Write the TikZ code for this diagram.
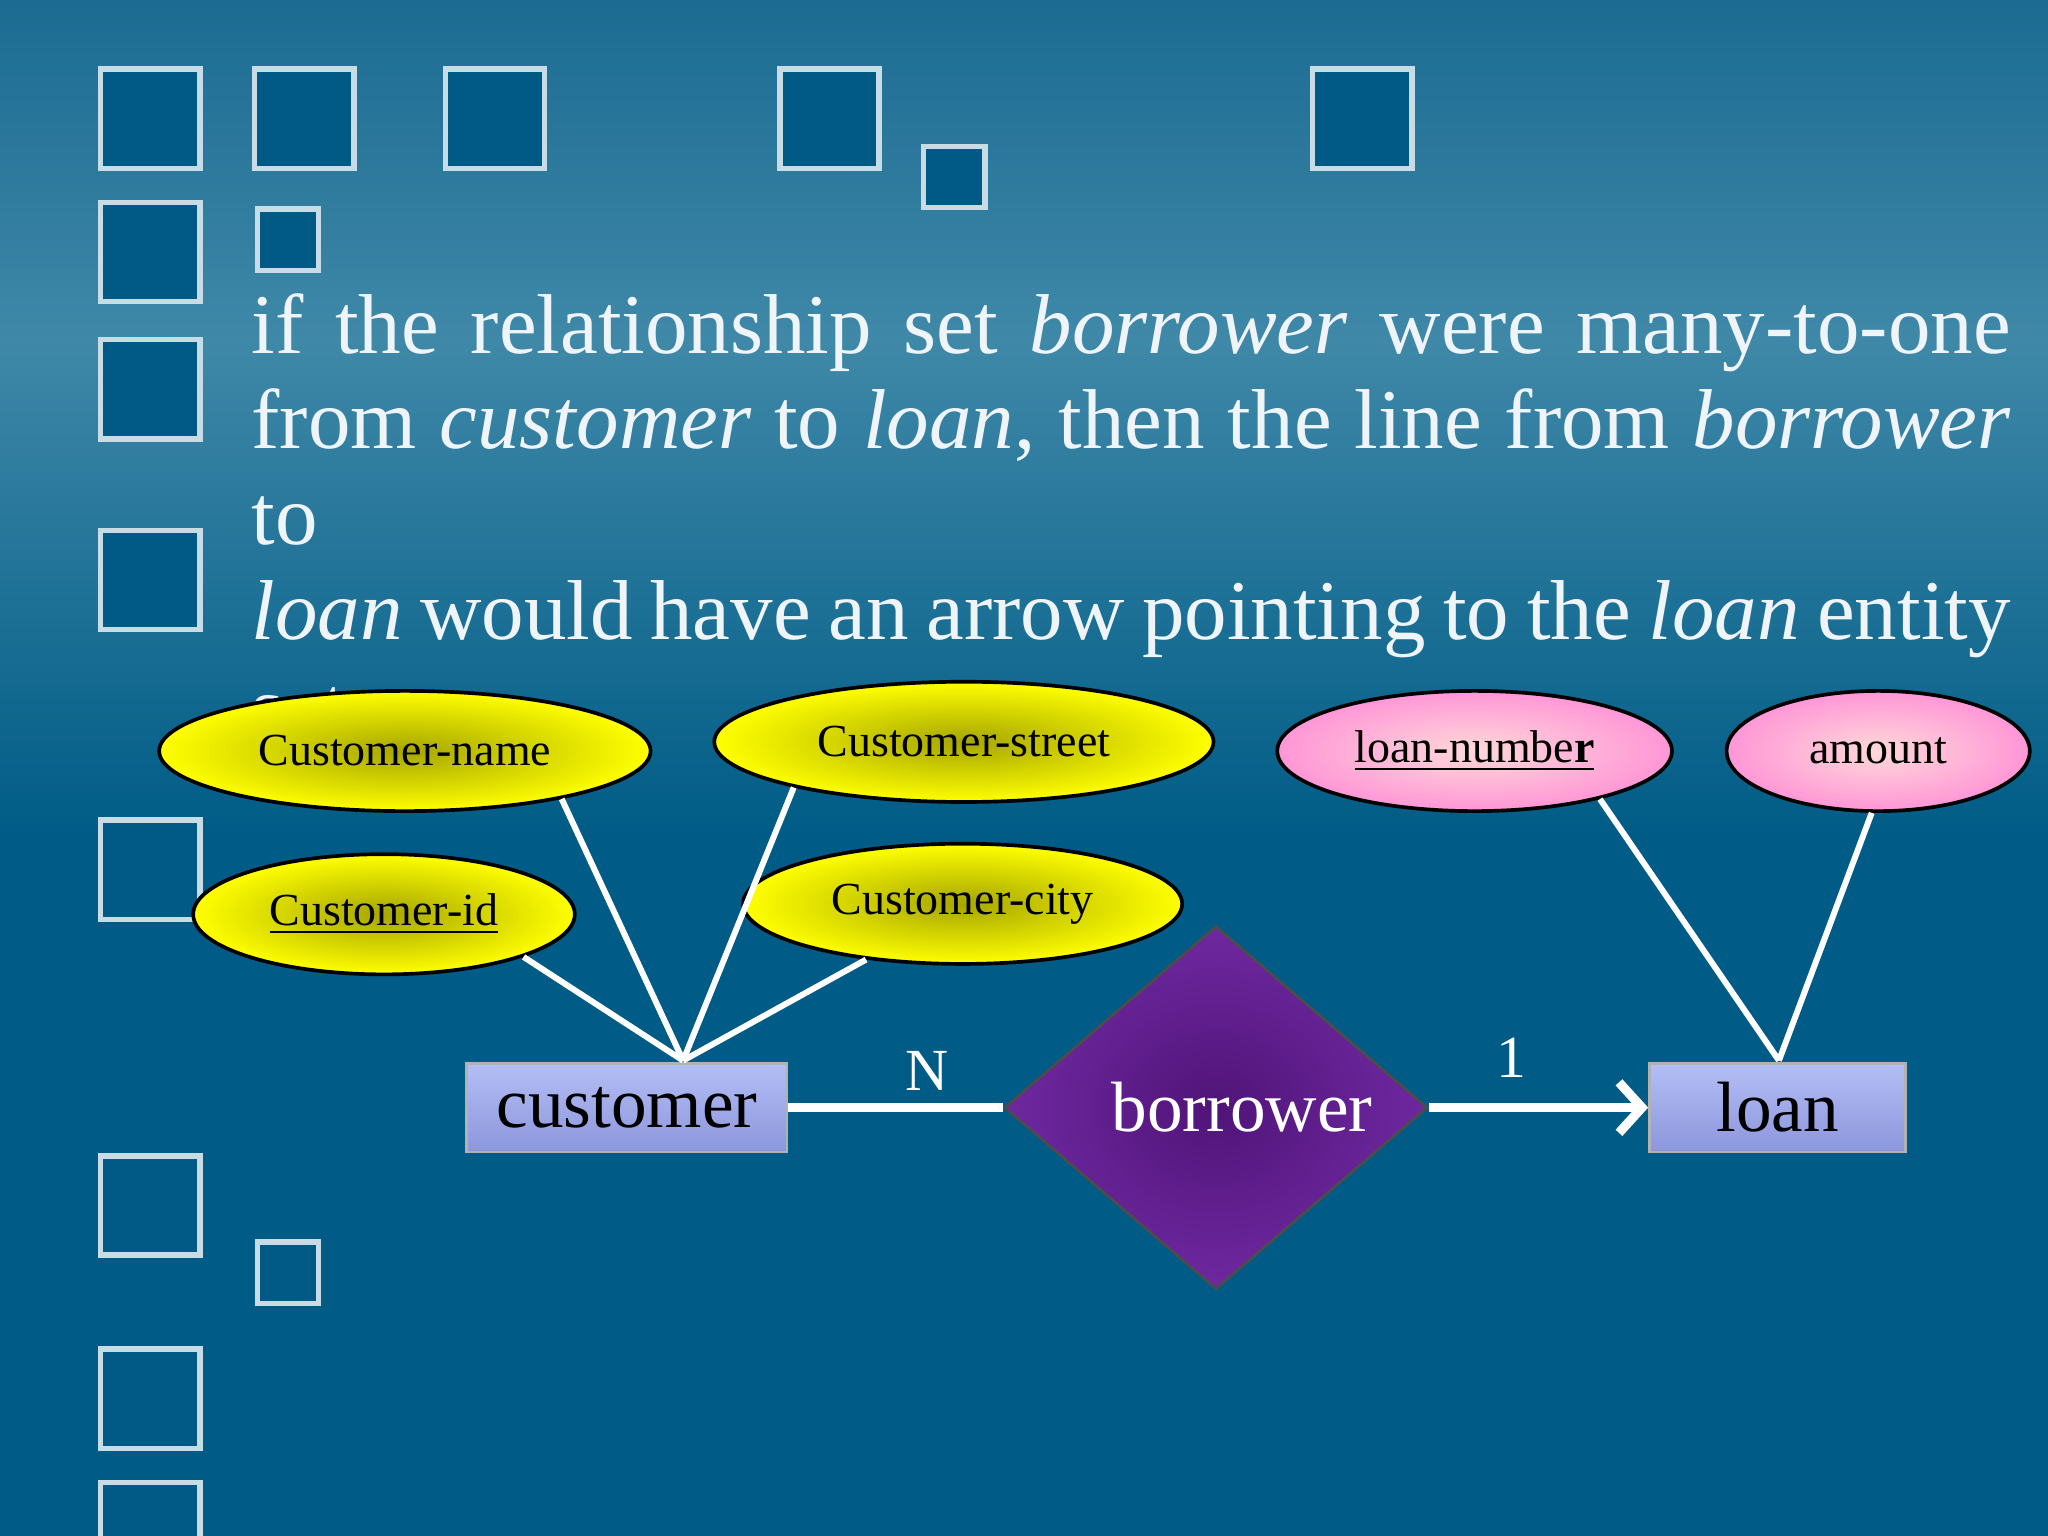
\documentclass[tikz,border=0pt]{standalone}
\usepackage{fontspec}
\setmainfont{Liberation Serif}
\usetikzlibrary{shapes.geometric,arrows.meta}
\definecolor{bgtop}{HTML}{1B6B92}
\definecolor{bgmid}{HTML}{3F88A8}
\definecolor{bgbot}{HTML}{005C86}
\definecolor{sqfill}{HTML}{005A85}
\definecolor{sqline}{HTML}{C8DCE6}
\definecolor{ptxt}{HTML}{EEF4F7}
\tikzset{
  sq/.style={draw=sqline,line width=1.2pt,fill=sqfill},
  yel/.style={ellipse,draw=black,line width=0.8pt,inner color=yellow!65!black,outer color=yellow,inner sep=0pt,font=\fontsize{10}{12}\selectfont},
  pnk/.style={ellipse,draw=black,line width=0.8pt,inner color=pink!60!white,outer color={rgb,255:red,255;green,150;blue,215},inner sep=0pt,font=\fontsize{10}{12}\selectfont},
  ent/.style={draw=gray!60,line width=0.6pt,top color={rgb,255:red,180;green,190;blue,245},bottom color={rgb,255:red,140;green,150;blue,220},font=\fontsize{15.5}{17}\selectfont},
  conn/.style={draw=white,line width=1.3pt},
}
\begin{document}
\begin{tikzpicture}[x=0.01cm,y=-0.01cm]
\useasboundingbox (0,0) rectangle (1568,1176);
\shade[top color=bgtop,bottom color=bgmid] (0,0) rectangle (1568,260);
\shade[top color=bgmid,bottom color=bgbot] (0,260) rectangle (1568,640);
\fill[bgbot] (0,640) rectangle (1568,1176);
% squares
\foreach \x/\y/\s in {77/53/76,195/53/76,341/53/76,597/53/76,1005/53/76,707/112/47,77/155/76,197/160/47,77/260/76,77/406/76,77/628/76,77/885/76,197/951/47,77/1033/76,77/1135/76}
  \draw[sq] (\x,\y) rectangle ++(\s,\s);
% paragraph
\node[anchor=north west,inner sep=0pt,text width=13.46cm,text=ptxt,align=justify,
  font=\fontsize{18.5}{20.8}\selectfont] (para) at (192,224)
 {\hyphenpenalty=10000 if the relationship set \textit{borrower} were many-to-one\linebreak from \textit{customer} to \textit{loan}, then the line from \textit{borrower} to\linebreak \textit{loan} would have an arrow pointing to the \textit{loan} entity\linebreak set};
% attributes
\node[yel,minimum width=3.76cm,minimum height=0.92cm] (cname) at (310,575) {Customer-name};
\node[yel,minimum width=3.82cm,minimum height=0.92cm] (cstreet) at (738,568) {Customer-street};
\node[yel,minimum width=2.92cm,minimum height=0.92cm] (cid) at (294,700) {\underline{Customer-id}};
\node[yel,minimum width=3.36cm,minimum height=0.92cm] (ccity) at (737,692) {Customer-city};
\node[pnk,minimum width=3.02cm,minimum height=0.92cm] (lnum) at (1129,575) {\underline{loan-numbe\textbf{r}}};
\node[pnk,minimum width=2.32cm,minimum height=0.92cm] (amt) at (1438,575) {amount};
% entities
\node[ent,minimum width=2.45cm,minimum height=0.68cm,inner sep=0pt] (cust) at (480,848) {customer};
\node[ent,minimum width=1.96cm,minimum height=0.68cm,inner sep=0pt] (loan) at (1361,848) {loan};
\node[diamond,draw=black!70,line width=0.6pt,inner color={rgb,255:red,80;green,20;blue,120},outer color={rgb,255:red,110;green,40;blue,160},minimum width=3.24cm,minimum height=2.76cm,inner sep=0pt,text=white,font=\fontsize{15.5}{17}\selectfont] (bor) at (931,848) {\hspace*{0.4cm}borrower};
% connectors
\coordinate (ctop) at (523,812);
\coordinate (ltop) at (1362,812);
\draw[conn] (ctop) -- (cname.-17.6);
\draw[conn] (ctop) -- (cstreet.-165.8);
\draw[conn] (ctop) -- (cid.-17.6);
\draw[conn] (ctop) -- (ccity.-150.7);
\draw[conn] (ltop) -- (lnum.-21.7);
\draw[conn] (ltop) -- (amt.-96);
\draw[conn,line width=2pt] (cust.east) -- (bor.west);
\draw[conn,line width=2pt,-{Straight Barb[length=5pt,width=11pt,line width=2pt]}] (bor.east) -- (loan.west);
\node[text=white,font=\fontsize{13}{15}\selectfont] (nlab) at (710,820) {N};
\node[text=white,font=\fontsize{13}{15}\selectfont] (olab) at (1157,810) {1};
\end{tikzpicture}
\end{document}
